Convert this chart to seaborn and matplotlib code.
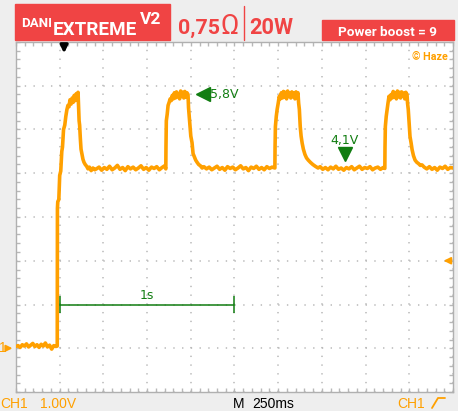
import matplotlib
matplotlib.use("Agg")
import matplotlib.pyplot as plt
from matplotlib.ticker import MultipleLocator
from matplotlib.patches import Rectangle
from matplotlib.lines import Line2D
import numpy as np
import pandas as pd
import seaborn as sns

# scope trace: time in s (250 ms/div), volts (1 V/div)
base0_t = [0, 0.012, 0.024, 0.036, 0.048, 0.060, 0.072, 0.084, 0.096, 0.108, 0.120,
           0.132, 0.144, 0.156, 0.168, 0.180, 0.192, 0.204, 0.216, 0.228, 0.236]
base0_v = [0.04, 0.06, 0.02, 0.08, 0.05, 0.10, 0.03, 0.07, 0.11, 0.04, 0.08,
           0.02, 0.09, 0.05, 0.12, 0.03, 0.07, -0.02, 0.06, 0.04, 0.05]

pulse1_t = [0.237, 0.239, 0.245, 0.250, 0.256, 0.262, 0.266, 0.272, 0.279, 0.285, 0.291,
            0.297, 0.303, 0.309, 0.315, 0.321, 0.327, 0.333, 0.339, 0.345, 0.351, 0.355,
            0.358, 0.361, 0.364, 0.368, 0.372, 0.377, 0.383, 0.389, 0.396, 0.404, 0.412,
            0.420, 0.430, 0.440, 0.450]
pulse1_v = [3.2, 3.35, 3.4, 3.95, 4.05, 4.5, 4.6, 5.0, 5.1, 5.3, 5.45,
            5.55, 5.52, 5.68, 5.58, 5.72, 5.62, 5.78, 5.66, 5.82, 5.7, 5.85,
            5.5, 5.2, 5.1, 4.8, 4.55, 4.45, 4.32, 4.25, 4.2, 4.16, 4.1,
            4.14, 4.06, 4.12, 4.08]

base1_t = [0.46, 0.475, 0.49, 0.505, 0.52, 0.535, 0.55, 0.565, 0.58, 0.595, 0.61, 0.625,
           0.64, 0.655, 0.67, 0.685, 0.70, 0.715, 0.73, 0.745, 0.76, 0.775, 0.79, 0.805,
           0.82, 0.835, 0.85, 0.857]
base1_v = [4.10, 4.14, 4.07, 4.13, 4.09, 4.16, 4.08, 4.12, 4.18, 4.09, 4.13, 4.06,
           4.15, 4.10, 4.14, 4.08, 4.12, 4.17, 4.09, 4.13, 4.07, 4.14, 4.11, 4.15,
           4.08, 4.13, 4.17, 4.10]

pulse2_t = [0.858, 0.860, 0.865, 0.870, 0.876, 0.882, 0.888, 0.894, 0.900, 0.906, 0.912,
            0.918, 0.924, 0.930, 0.936, 0.942, 0.948, 0.954, 0.960, 0.966, 0.972, 0.978,
            0.984, 0.987, 0.991, 0.995, 1.000, 1.007, 1.013, 1.020, 1.028, 1.036, 1.045,
            1.055, 1.065, 1.075, 1.090]
pulse2_v = [4.6, 5.2, 5.35, 5.55, 5.62, 5.7, 5.66, 5.78, 5.7, 5.84, 5.72,
            5.86, 5.75, 5.82, 5.7, 5.88, 5.76, 5.85, 5.72, 5.87, 5.74, 5.84,
            5.8, 5.5, 5.3, 5.07, 4.85, 4.7, 4.45, 4.38, 4.3, 4.25, 4.2,
            4.17, 4.12, 4.15, 4.10]

base2_t = [1.105, 1.12, 1.135, 1.15, 1.165, 1.18, 1.195, 1.21, 1.225, 1.24, 1.255, 1.27,
           1.285, 1.30, 1.315, 1.33, 1.345, 1.36, 1.375, 1.39, 1.405, 1.42, 1.435, 1.45,
           1.465, 1.481]
base2_v = [4.14, 4.08, 4.12, 4.16, 4.09, 4.13, 4.07, 4.15, 4.11, 4.14, 4.08, 4.12,
           4.17, 4.10, 4.13, 4.06, 4.14, 4.11, 4.16, 4.09, 4.13, 4.08, 4.15, 4.11,
           4.14, 4.12]

pulse3_t = [1.482, 1.484, 1.489, 1.494, 1.500, 1.506, 1.512, 1.518, 1.524, 1.530, 1.536,
            1.542, 1.548, 1.554, 1.560, 1.566, 1.572, 1.578, 1.584, 1.590, 1.596, 1.602,
            1.608, 1.613, 1.617, 1.621, 1.626, 1.631, 1.637, 1.644, 1.653, 1.662, 1.672,
            1.684, 1.698, 1.712, 1.728]
pulse3_v = [4.6, 5.07, 5.3, 5.46, 5.6, 5.76, 5.7, 5.84, 5.72, 5.87, 5.74,
            5.85, 5.7, 5.88, 5.76, 5.84, 5.72, 5.86, 5.75, 5.83, 5.7, 5.86,
            5.78, 5.84, 5.6, 5.46, 5.07, 4.85, 4.69, 4.55, 4.43, 4.35, 4.3,
            4.25, 4.2, 4.16, 4.12]

base3_t = [1.74, 1.755, 1.77, 1.785, 1.80, 1.815, 1.83, 1.845, 1.86, 1.875, 1.89, 1.905,
           1.92, 1.935, 1.95, 1.965, 1.98, 1.995, 2.01, 2.025, 2.04, 2.055, 2.07, 2.085,
           2.10, 2.110]
base3_v = [4.15, 4.09, 4.13, 4.08, 4.14, 4.10, 4.16, 4.09, 4.12, 4.07, 4.13, 4.10,
           4.15, 4.08, 4.12, 4.16, 4.09, 4.13, 4.11, 4.15, 4.08, 4.12, 4.14, 4.09,
           4.13, 4.11]

pulse4_t = [2.111, 2.113, 2.118, 2.123, 2.128, 2.134, 2.140, 2.146, 2.152, 2.158, 2.164,
            2.170, 2.176, 2.182, 2.188, 2.194, 2.200, 2.206, 2.212, 2.218, 2.224, 2.230,
            2.237, 2.240, 2.244, 2.249, 2.254, 2.260, 2.266, 2.274, 2.283, 2.293, 2.303,
            2.313, 2.323, 2.335]
pulse4_v = [4.6, 5.07, 5.3, 5.46, 5.6, 5.76, 5.68, 5.8, 5.72, 5.87, 5.74,
            5.84, 5.7, 5.88, 5.75, 5.85, 5.72, 5.86, 5.76, 5.83, 5.7, 5.85,
            5.8, 5.6, 5.46, 5.15, 4.84, 4.7, 4.54, 4.4, 4.3, 4.25, 4.22,
            4.18, 4.19, 4.14]

base4_t = [2.35, 2.365, 2.38, 2.395, 2.41, 2.425, 2.44, 2.455, 2.47, 2.485, 2.5]
base4_v = [4.1, 4.15, 4.09, 4.13, 4.07, 4.14, 4.11, 4.16, 4.09, 4.13, 4.12]

seg_t = [base0_t, pulse1_t, base1_t, pulse2_t, base2_t, pulse3_t, base3_t, pulse4_t, base4_t]
seg_v = [base0_v, pulse1_v, base1_v, pulse2_v, base2_v, pulse3_v, base3_v, pulse4_v, base4_v]
trace = pd.DataFrame({"t": np.concatenate(seg_t), "v": np.concatenate(seg_v)})

# cursor readouts
peak_v = 5.8
peak_mark_t = 1.067
idle_v = 4.1
idle_mark_t = 1.882
span_t = [0.25, 1.25]      # 1 s marker
span_v = 1.0
trig_t = 0.275
trig_level = 2.0

ORANGE = "#ffa000"
GREEN = "#117d11"
RED = "#f04444"
GRID = "#b8b8b8"

sns.set_style("white")
plt.rcParams["font.family"] = ["Liberation Sans", "DejaVu Sans"]

# no narrow face installed; Roboto bold is the most compact one
BANNER = dict(family=["Roboto", "DejaVu Sans"], weight="bold")

W, H = 458, 411
fig = plt.figure(figsize=(W / 100, H / 100), dpi=100, facecolor="#eeeeee")


def fx(x):
    return x / W


def fy(y):
    return 1 - y / H


ax = fig.add_axes([fx(16), fy(392), 437 / W, 350 / H])
ax.set_facecolor("white")
ax.set_xlim(0, 2.5)
ax.set_ylim(-1, 7)

# dotted division grid + small edge ticks
ax.xaxis.set_major_locator(MultipleLocator(0.25))
ax.yaxis.set_major_locator(MultipleLocator(1))
ax.xaxis.set_minor_locator(MultipleLocator(0.05))
ax.yaxis.set_minor_locator(MultipleLocator(0.2))
ax.grid(True, which="major", color=GRID, lw=1.1, linestyle=(0, (0.9, 4.82)))
ax.tick_params(which="both", direction="in", length=3, width=1, color=GRID,
               top=True, right=True, bottom=True, left=True,
               labelbottom=False, labelleft=False)
for s in ax.spines.values():
    s.set_color("#b0b0b0")
    s.set_linewidth(1)

# centre cross with tick dashes
ax2 = fig.add_axes(ax.get_position(), frameon=True)
ax2.patch.set_alpha(0)
ax2.set_xlim(0, 2.5)
ax2.set_ylim(-1, 7)
for side in ["top", "right"]:
    ax2.spines[side].set_visible(False)
for side in ["left", "bottom"]:
    ax2.spines[side].set_position("center")
    ax2.spines[side].set_visible(False)
ax2.xaxis.set_major_locator(MultipleLocator(0.05))
ax2.yaxis.set_major_locator(MultipleLocator(0.2))
ax2.tick_params(direction="inout", length=4, width=1.1, color=GRID,
                labelbottom=False, labelleft=False)

sns.lineplot(data=trace, x="t", y="v", sort=False, estimator=None,
             color=ORANGE, lw=2.6, ax=ax, zorder=5)
ax.set_xlabel("")
ax.set_ylabel("")

# cursors
ax.plot(peak_mark_t, peak_v, marker="<", ms=10, color=GREEN, zorder=6)
ax.text(peak_mark_t + 0.045, peak_v, "5,8V", color=GREEN, fontsize=9,
        va="center", ha="left", family="DejaVu Sans")
ax.plot(idle_mark_t, idle_v + 0.33, marker="v", ms=10, color=GREEN, zorder=6)
ax.text(idle_mark_t, idle_v + 0.5, "4,1V", color=GREEN, fontsize=9,
        va="bottom", ha="center", family="DejaVu Sans")
ax.plot(span_t, [span_v, span_v], color=GREEN, lw=1.1, zorder=6)
ax.vlines(span_t, span_v - 0.2, span_v + 0.2, color=GREEN, lw=1.1, zorder=6)
ax.text(np.mean(span_t), span_v + 0.05, "1s", color=GREEN, fontsize=9,
        va="bottom", ha="center", family="DejaVu Sans")

# trigger position, ground and trigger level markers
ax.annotate("", xy=(trig_t, 6.68), xytext=(trig_t, 6.97),
            arrowprops=dict(arrowstyle="-|>", color="black", lw=2.2, mutation_scale=11),
            annotation_clip=False)
ax.annotate("", xy=(-0.004, 0), xytext=(-0.065, 0),
            arrowprops=dict(arrowstyle="-|>", color=ORANGE, lw=1.4, mutation_scale=9),
            annotation_clip=False)
ax.text(-0.077, 0, "1", color=ORANGE, fontsize=10, ha="center", va="center", clip_on=False)
ax.annotate("", xy=(2.43, trig_level), xytext=(2.49, trig_level),
            arrowprops=dict(arrowstyle="-|>", color=ORANGE, lw=1.4, mutation_scale=10),
            annotation_clip=False)

# banner
fig.patches.append(Rectangle((fx(15), fy(40)), 155 / W, 36 / H,
                             transform=fig.transFigure, color=RED, zorder=0))
fig.patches.append(Rectangle((fx(322), fy(40)), 132 / W, 20 / H,
                             transform=fig.transFigure, color=RED, zorder=0))
fig.add_artist(Line2D([fx(244), fx(244)], [fy(6), fy(40)], color=RED, lw=1,
                      transform=fig.transFigure))

renderer = fig.canvas.get_renderer()


def fitted(x, y, s, width, size, color, ha="left", **kw):
    # shrink a banner label until it spans the width it has on the screen
    props = dict(BANNER)
    props.update(kw)
    t = fig.text(fx(x), fy(y), s, color=color, fontsize=size, va="baseline", ha=ha, **props)
    w = t.get_window_extent(renderer=renderer).width
    if w > width:
        t.set_fontsize(size * width / w)
    return t


fitted(21, 27, "DANI", 31, 10.5, "white")
fitted(53, 35, "EXTREME", 84, 20, "white")
fitted(140, 24, "V2", 23, 12.5, "white")
fitted(178, 34, "0,75", 42, 20, RED)
fitted(220, 34, "Ω", 21, 20, RED, weight="normal")
fitted(249, 34, "20W", 44, 20, RED)
fitted(388, 36, "Power boost = 9", 98, 12, "white", ha="center")
fitted(448, 60, "© Haze", 36, 10, ORANGE, ha="right")

# bottom status line
fig.text(fx(0), fy(408), "CH1", color=ORANGE, fontsize=10, va="baseline")
fig.text(fx(40), fy(408), "1.00V", color=ORANGE, fontsize=10, va="baseline")
fig.text(fx(233), fy(408), "M", color="black", fontsize=10, va="baseline")
fig.text(fx(252), fy(408), "250ms", color="black", fontsize=10, va="baseline")
fig.text(fx(397), fy(408), "CH1", color=ORANGE, fontsize=10, va="baseline")
fig.add_artist(Line2D([fx(432), fx(438), fx(445)], [fy(408), fy(398), fy(398)],
                      color=ORANGE, lw=1.3, transform=fig.transFigure))

fig.savefig("out.png", dpi=100, facecolor=fig.get_facecolor())
